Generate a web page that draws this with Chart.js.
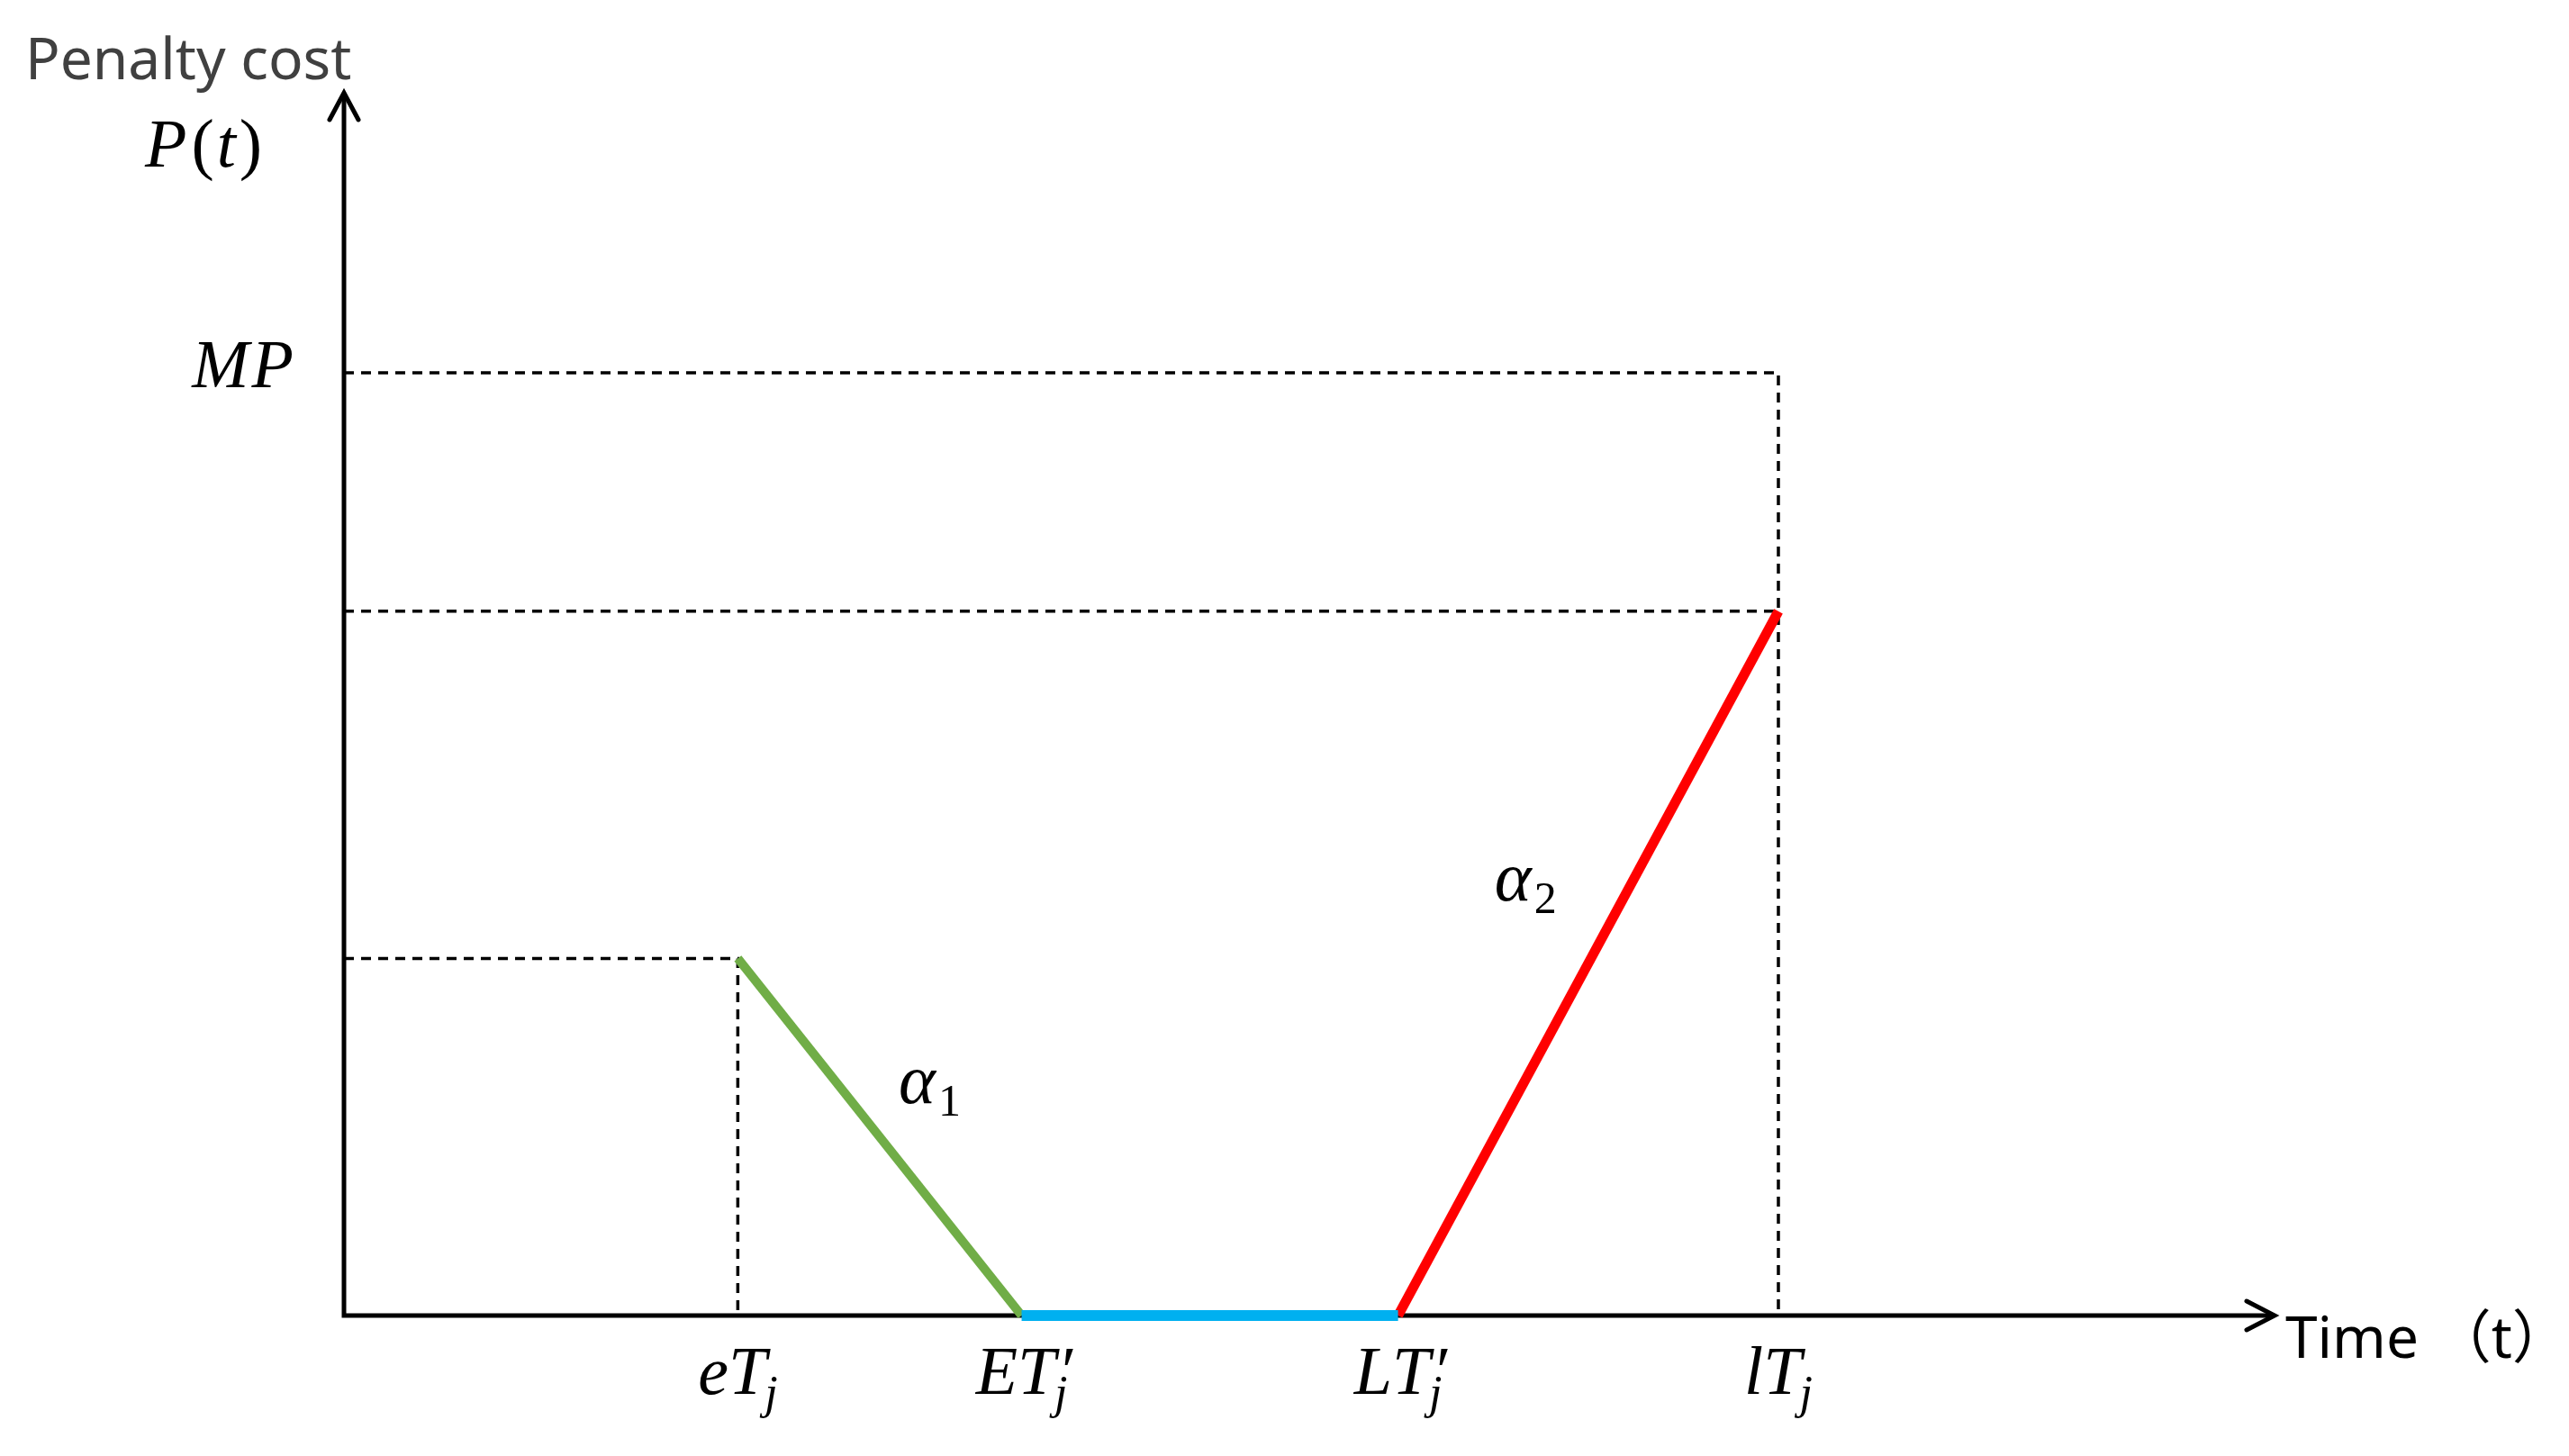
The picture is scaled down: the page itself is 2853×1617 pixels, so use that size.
<!DOCTYPE html>
<html>
<head>
  <title>Penalty cost</title>
  <script src="https://cdn.jsdelivr.net/npm/chart.js"></script>
  <style>
    html, body { margin: 0; padding: 0; background: #ffffff; }
    #wrap { width: 2853px; height: 1617px; position: relative; }
  </style>
</head>
<body>
  <div id="wrap"><canvas id="penaltyChart"></canvas></div>

  <script>
    // time points on the horizontal axis (axis runs 0..10)
    const timeNames = ['e', 'E', 'L', 'l'];
    const timePrimes = [false, true, true, false];
    const timeValues = [2.04, 3.51, 5.46, 7.43];
    // penalty levels on the vertical axis (axis runs 0..10)
    const penaltyEarly = 2.92;
    const penaltyLate = 5.76;
    const penaltyMax = 7.71;
    const axisMax = 10;

    // the three pieces of P(t)
    const earlyPoints = [{ x: timeValues[0], y: penaltyEarly }, { x: timeValues[1], y: 0 }];
    const windowPoints = [{ x: timeValues[1], y: 0 }, { x: timeValues[2], y: 0 }];
    const latePoints = [{ x: timeValues[2], y: 0 }, { x: timeValues[3], y: penaltyLate }];

    const serif = '"Liberation Serif", "DejaVu Serif", serif';
    const sans = '"Noto Sans", "Noto Sans CJK SC", sans-serif';

    // draw a row of text pieces (italic / upright / sub) starting at x
    function drawRuns(ctx, parts, x, y, align) {
      let total = 0;
      parts.forEach(p => {
        ctx.font = (p.it ? 'italic ' : '') + p.s + 'px ' + serif;
        p.w = ctx.measureText(p.t).width;
        total += p.w + (p.dx || 0);
      });
      let cx = x;
      if (align === 'center') cx = x - total / 2;
      if (align === 'right') cx = x - total;
      ctx.textAlign = 'left';
      ctx.textBaseline = 'alphabetic';
      parts.forEach(p => {
        cx += p.dx || 0;
        ctx.font = (p.it ? 'italic ' : '') + p.s + 'px ' + serif;
        ctx.fillText(p.t, cx, y + (p.dy || 0));
        cx += p.w;
      });
    }

    const axisArrows = {
      id: 'axisArrows',
      afterDatasetsDraw(chart) {
        const ctx = chart.ctx;
        const xs = chart.scales.x, ys = chart.scales.y;
        const x0 = xs.getPixelForValue(0), y0 = ys.getPixelForValue(0);
        const xTip = xs.getPixelForValue(axisMax), yTip = ys.getPixelForValue(axisMax);
        ctx.save();
        ctx.strokeStyle = '#000000';
        ctx.lineWidth = 5;
        ctx.lineCap = 'round';
        ctx.lineJoin = 'miter';
        ctx.beginPath();
        ctx.moveTo(x0 - 16, yTip + 30);
        ctx.lineTo(x0, yTip);
        ctx.lineTo(x0 + 16, yTip + 30);
        ctx.moveTo(xTip - 31, y0 - 16);
        ctx.lineTo(xTip, y0);
        ctx.lineTo(xTip - 31, y0 + 16);
        ctx.stroke();
        ctx.restore();
      }
    };

    const mathLabels = {
      id: 'mathLabels',
      afterDraw(chart) {
        const ctx = chart.ctx;
        const xs = chart.scales.x, ys = chart.scales.y;
        const x0 = xs.getPixelForValue(0), y0 = ys.getPixelForValue(0);
        const xTip = xs.getPixelForValue(axisMax), yTip = ys.getPixelForValue(axisMax);
        ctx.save();

        // axis titles
        ctx.fillStyle = '#404040';
        ctx.font = '64px ' + sans;
        ctx.textAlign = 'left';
        ctx.textBaseline = 'alphabetic';
        ctx.fillText('Penalty cost', x0 - 354, yTip - 15);
        ctx.fillStyle = '#000000';
        ctx.font = '64px ' + sans;
        ctx.fillText('Time （t）', xTip + 12, y0 + 47);

        // P(t)
        drawRuns(ctx, [
          { t: 'P', s: 76, it: true },
          { t: '(', s: 76, dx: 5 },
          { t: 't', s: 76, it: true, dx: 3 },
          { t: ')', s: 76, dx: 4 }
        ], x0 - 221, yTip + 82, 'left');

        // MP
        drawRuns(ctx, [{ t: 'M', s: 76, it: true }, { t: 'P', s: 76, it: true, dx: 3 }], x0 - 56, ys.getPixelForValue(penaltyMax) + 16, 'right');

        // time tick labels
        timeValues.forEach((v, i) => {
          const parts = [
            { t: timeNames[i], s: 76, it: true },
            { t: 'T', s: 76, it: true }
          ];
          if (timePrimes[i]) {
            parts.push({ t: '\u2032', s: 76, it: true, dx: 2 });
            parts.push({ t: 'j', s: 52, it: true, dy: 16, dx: -20 });
          } else {
            parts.push({ t: 'j', s: 52, it: true, dy: 16, dx: -2 });
          }
          drawRuns(ctx, parts, xs.getPixelForValue(v), y0 + 87, 'center');
        });

        // slope labels next to the sloped pieces
        const gx = xs.getPixelForValue((earlyPoints[0].x + earlyPoints[1].x) / 2);
        const gy = ys.getPixelForValue((earlyPoints[0].y + earlyPoints[1].y) / 2);
        drawRuns(ctx, [
          { t: '\u03b1', s: 78, it: true },
          { t: '1', s: 50, dy: 14, dx: 3 }
        ], gx + 21, gy - 38, 'left');
        const rx = xs.getPixelForValue((latePoints[0].x + latePoints[1].x) / 2);
        const ry = ys.getPixelForValue((latePoints[0].y + latePoints[1].y) / 2);
        drawRuns(ctx, [
          { t: '\u03b1', s: 78, it: true },
          { t: '2', s: 50, dy: 14, dx: 3 }
        ], rx - 104, ry - 70, 'left');

        ctx.restore();
      }
    };

    const dashed = { borderColor: '#000000', borderWidth: 3.5, borderDash: [11, 8], pointRadius: 0, tension: 0, order: 5 };

    new Chart(document.getElementById('penaltyChart'), {
      type: 'line',
      data: {
        datasets: [
          { data: earlyPoints, borderColor: '#70AD47', borderWidth: 10, pointRadius: 0, order: 1, borderCapStyle: 'butt' },
          { data: windowPoints, borderColor: '#00B0F0', borderWidth: 12, pointRadius: 0, order: 0, borderCapStyle: 'butt' },
          { data: latePoints, borderColor: '#FF0000', borderWidth: 11, pointRadius: 0, order: 1, borderCapStyle: 'butt' },
          Object.assign({ data: [{ x: 0, y: penaltyEarly }, { x: timeValues[0], y: penaltyEarly }, { x: timeValues[0], y: 0 }] }, dashed),
          Object.assign({ data: [{ x: 0, y: penaltyLate }, { x: timeValues[3], y: penaltyLate }] }, dashed),
          Object.assign({ data: [{ x: 0, y: penaltyMax }, { x: timeValues[3], y: penaltyMax }, { x: timeValues[3], y: 0 }] }, dashed),
          // the two axes
          { data: [{ x: 0, y: axisMax }, { x: 0, y: 0 }, { x: axisMax, y: 0 }], borderColor: '#000000', borderWidth: 5, pointRadius: 0, order: 9, borderJoinStyle: 'miter' }
        ]
      },
      options: {
        responsive: true,
        maintainAspectRatio: false,
        animation: false,
        layout: { padding: { left: 382, right: 327, top: 103, bottom: 156 } },
        elements: { line: { tension: 0 } },
        datasets: { line: { clip: false } },
        plugins: { legend: { display: false }, tooltip: { enabled: false } },
        scales: {
          x: { type: 'linear', min: 0, max: axisMax, display: false },
          y: { type: 'linear', min: 0, max: axisMax, display: false }
        }
      },
      plugins: [axisArrows, mathLabels]
    });
  </script>
</body>
</html>
